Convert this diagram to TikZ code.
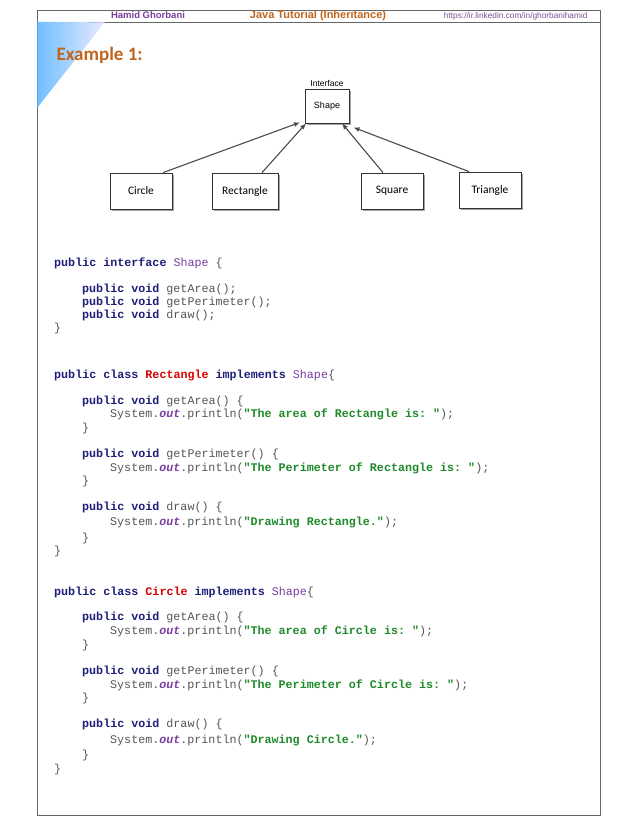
\documentclass[tikz,border=0pt]{standalone}
\usepackage{fontspec}
\setmainfont{Liberation Sans}
\setmonofont{Liberation Mono}
\newfontfamily\calib{Carlito}
\usetikzlibrary{arrows.meta,shadows}
\definecolor{kwc}{HTML}{1F1F7A}
\definecolor{purp}{HTML}{7A3FA0}
\definecolor{strc}{HTML}{1F8A2A}
\definecolor{codec}{HTML}{555555}
\definecolor{hdrbrown}{HTML}{C0651E}
\newcommand{\kw}[1]{\textcolor{kwc}{\bfseries #1}}
\newcommand{\pu}[1]{\textcolor{purp}{#1}}
\newcommand{\rd}[1]{\textcolor{red!85!black}{\bfseries #1}}
\newcommand{\st}[1]{\textcolor{strc}{\bfseries #1}}
\newcommand{\ou}{\textcolor{purp}{\bfseries\itshape out}}
\tikzset{
  cl/.style={anchor=base west,inner sep=0pt,font=\ttfamily\fontsize{11.7}{11.7}\selectfont,text=codec},
  cbox/.style={draw=black!80,fill=white,line width=0.8pt,minimum width=62pt,minimum height=36pt,font=\calib\fontsize{11.5}{11.5}\selectfont,drop shadow={shadow xshift=1.5pt,shadow yshift=-2.5pt,opacity=0.6,fill=black!60}},
  arr/.style={draw=black!70,line width=1.1pt,-{Latex[length=6pt,width=5pt]}}
}
\begin{document}
\begin{tikzpicture}[x=1pt,y=-1pt]
\useasboundingbox (0,0) rectangle (638,826);
\fill[white] (0,0) rectangle (638,826);
\draw[black!60,line width=0.6pt] (37,10) rectangle (600,815);
\draw[black!60,line width=0.6pt] (88,22) -- (600,22);
\shade[left color=blue!45!cyan!70,right color=blue!10,opacity=0.8] (37,22) -- (105,22) -- (37,108) -- cycle;
\node[anchor=base,font=\bfseries\fontsize{9.5}{9.5}\selectfont,text=purp] (h1) at (148,19) {Hamid Ghorbani};
\node[anchor=base,font=\bfseries\fontsize{11}{11}\selectfont,text=hdrbrown] (h2) at (318,19) {Java Tutorial (Inheritance)};
\node[anchor=base east,font=\fontsize{8.3}{8.3}\selectfont,text=purp!70!gray] (h3) at (591,19) {https://ir.linkedin.com/in/ghorbanihamid};
\node[anchor=base west,font=\calib\bfseries\fontsize{19}{19}\selectfont,text=hdrbrown] (ex) at (53,61) {Example 1:};
% diagram
\node[font=\fontsize{8.5}{8.5}\selectfont] (ifl) at (327,83) {Interface};
\node[cbox,minimum width=44pt,minimum height=34pt,font=\fontsize{9}{9}\selectfont] (shape) at (327,106) {Shape};
\node[cbox] (circle) at (141,191) {Circle};
\node[cbox,minimum width=66pt] (rect) at (245,191) {Rectangle};
\node[cbox] (square) at (392,191) {Square};
\node[cbox] (tri) at (490,190) {Triangle};
\draw[arr] ([xshift=22pt]circle.north) -- ([xshift=-27pt,yshift=1pt]shape.south);
\draw[arr] ([xshift=17pt]rect.north) -- ([xshift=-21pt]shape.south);
\draw[arr] ([xshift=-9pt]square.north) -- ([xshift=15pt]shape.south);
\draw[arr] ([xshift=-21pt]tri.north) -- ([xshift=4pt,yshift=-4pt]shape.south east);
% code
\node[cl] (l1) at (54,266) {\kw{public interface} \pu{Shape} \{};
\node[cl] (l2) at (82,292) {\kw{public void} getArea();};
\node[cl] (l3) at (82,305) {\kw{public void} getPerimeter();};
\node[cl] (l4) at (82,318) {\kw{public void} draw();};
\node[cl] (l5) at (54,331) {\}};
\node[cl] (r1) at (54,378) {\kw{public class} \rd{Rectangle} \kw{implements} \pu{Shape}\{};
\node[cl] (r2) at (82,404) {\kw{public void} getArea() \{};
\node[cl] (r3) at (110,417) {System.\ou.println(\st{"The area of Rectangle is: "});};
\node[cl] (r4) at (82,431) {\}};
\node[cl] (r5) at (82,457) {\kw{public void} getPerimeter() \{};
\node[cl] (r6) at (110,471) {System.\ou.println(\st{"The Perimeter of Rectangle is: "});};
\node[cl] (r7) at (82,484) {\}};
\node[cl] (r8) at (82,510) {\kw{public void} draw() \{};
\node[cl] (r9) at (110,525) {System.\ou.println(\st{"Drawing Rectangle."});};
\node[cl] (r10) at (82,541) {\}};
\node[cl] (r11) at (54,554) {\}};
\node[cl] (c1) at (54,595) {\kw{public class} \rd{Circle} \kw{implements} \pu{Shape}\{};
\node[cl] (c2) at (82,620) {\kw{public void} getArea() \{};
\node[cl] (c3) at (110,634) {System.\ou.println(\st{"The area of Circle is: "});};
\node[cl] (c4) at (82,648) {\}};
\node[cl] (c5) at (82,674) {\kw{public void} getPerimeter() \{};
\node[cl] (c6) at (110,688) {System.\ou.println(\st{"The Perimeter of Circle is: "});};
\node[cl] (c7) at (82,701) {\}};
\node[cl] (c8) at (82,727) {\kw{public void} draw() \{};
\node[cl] (c9) at (110,743) {System.\ou.println(\st{"Drawing Circle."});};
\node[cl] (c10) at (82,758) {\}};
\node[cl] (c11) at (54,772) {\}};
\end{tikzpicture}
\end{document}
